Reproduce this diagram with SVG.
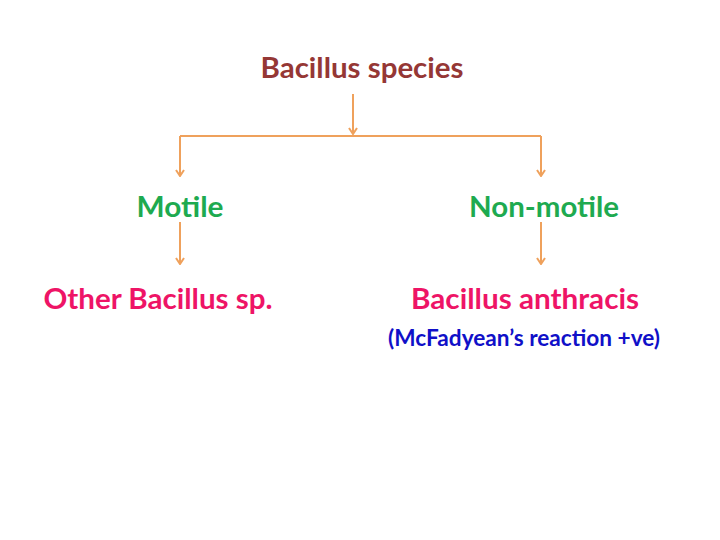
<svg xmlns="http://www.w3.org/2000/svg" width="720" height="540" viewBox="0 0 720 540">
<style>
text{font-family:Lato,"Liberation Sans",sans-serif;font-weight:bold;text-anchor:middle}
.c{stroke:#EFA15C;stroke-width:2;fill:none}
</style>
<defs>
<marker id="a" viewBox="0 0 10 10" refX="9" refY="5" markerWidth="10" markerHeight="10" markerUnits="userSpaceOnUse" orient="auto-start-reverse">
<path d="M3,1 L9,5 L3,9" fill="none" stroke="#EFA15C" stroke-width="2"/>
</marker>
</defs>
<rect width="720" height="540" fill="#fff"/>
<g id="connectors">
<line class="c" x1="353" y1="94" x2="353" y2="134" marker-end="url(#a)"/>
<polyline class="c" points="180,136 541,136"/>
<line class="c" x1="180" y1="136" x2="180" y2="176" marker-end="url(#a)"/>
<line class="c" x1="541" y1="136" x2="541" y2="176" marker-end="url(#a)"/>
<line class="c" x1="180" y1="222" x2="180" y2="264" marker-end="url(#a)"/>
<line class="c" x1="541" y1="222" x2="541" y2="264" marker-end="url(#a)"/>
</g>
<g id="root"><text x="362" y="78" font-size="29" fill="#953735" textLength="203" lengthAdjust="spacingAndGlyphs">Bacillus species</text></g>
<g id="motile"><text x="180" y="217" font-size="29" fill="#1EAA50" textLength="87" lengthAdjust="spacingAndGlyphs">Motile</text></g>
<g id="nonmotile"><text x="544" y="217" font-size="29" fill="#1EAA50" textLength="150" lengthAdjust="spacingAndGlyphs">Non-motile</text></g>
<g id="other"><text x="158" y="309" font-size="29" fill="#EE1466" textLength="229" lengthAdjust="spacingAndGlyphs">Other Bacillus sp.</text></g>
<g id="anthracis"><text x="525" y="309" font-size="29" fill="#EE1466" textLength="228" lengthAdjust="spacingAndGlyphs">Bacillus anthracis</text>
<text x="524" y="346" font-size="22" fill="#1010C8" textLength="272" lengthAdjust="spacingAndGlyphs">(McFadyean’s reaction +ve)</text></g>
</svg>
